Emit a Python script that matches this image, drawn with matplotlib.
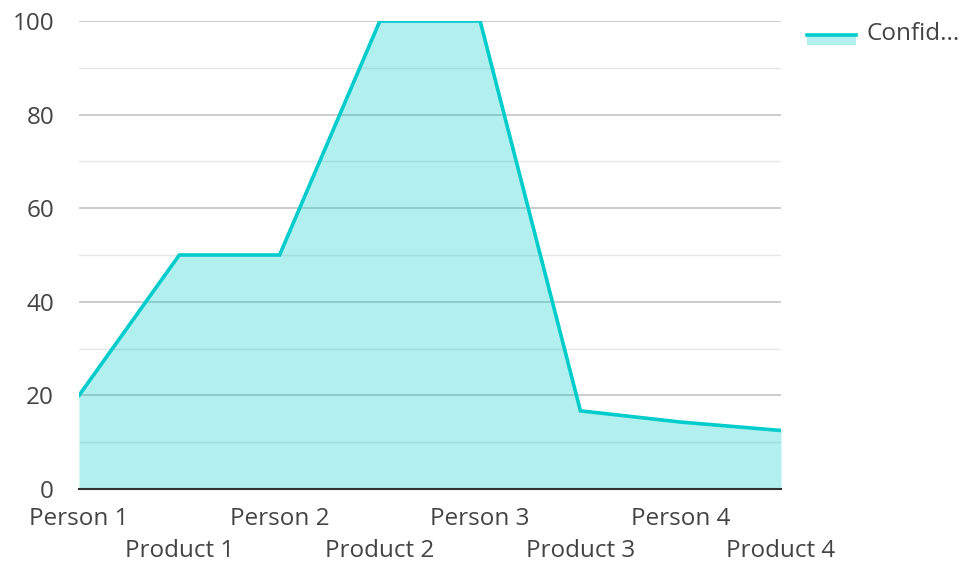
import matplotlib.pyplot as plt
from matplotlib.patches import Rectangle
from matplotlib.lines import Line2D

plt.rcParams['font.family'] = ['Open Sans', 'DejaVu Sans']

categories = ['Person 1', 'Product 1', 'Person 2', 'Product 2',
              'Person 3', 'Product 3', 'Person 4', 'Product 4']
confidence = [20, 50, 50, 100, 100, 16.7, 14.3, 12.5]
y_ticks = [0, 20, 40, 60, 80, 100]
y_minor = [10, 30, 50, 70, 90]

line_color = '#00CCCC'
text_color = '#444444'
fs = 17.5

fig = plt.figure(figsize=(9.63, 5.61), dpi=100)
ax = fig.add_axes([79 / 963, 72 / 561, 702 / 963, 468 / 561])

x = list(range(len(categories)))
# fill is semi transparent so the grid shows through it
ax.fill_between(x, confidence, 0, color=line_color, alpha=0.3, lw=0, zorder=2)
ax.plot(x, confidence, color=line_color, lw=2.6, zorder=3, solid_joinstyle='miter')

ax.set_xlim(0, len(categories) - 1)
ax.set_ylim(0, 100)
ax.set_yticks(y_ticks)
ax.set_yticks(y_minor, minor=True)
ax.set_axisbelow(True)
ax.grid(axis='y', which='major', color='#C4C4C4', lw=1.2)
ax.grid(axis='y', which='minor', color='#E6E6E6', lw=1.0)

labels = [c if i % 2 == 0 else '\n' + c for i, c in enumerate(categories)]
ax.set_xticks(x)
ax.set_xticklabels(labels, linespacing=1.42)
ax.tick_params(axis='both', which='both', length=0, labelsize=fs, colors=text_color)
ax.tick_params(axis='x', pad=13)
ax.tick_params(axis='y', pad=18)

for side in ['top', 'right', 'left']:
    ax.spines[side].set_visible(False)
ax.spines['bottom'].set_color('#333333')
ax.spines['bottom'].set_linewidth(1.5)
ax.spines['bottom'].set_zorder(4)

# legend drawn by hand: line on top of a filled swatch
fig.patches.append(Rectangle((807 / 963, 1 - 45 / 561), 49 / 963, 11 / 561,
                             transform=fig.transFigure, color=line_color,
                             alpha=0.3, lw=0))
fig.lines.append(Line2D([807 / 963, 856 / 963], [1 - 35 / 561, 1 - 35 / 561],
                        transform=fig.transFigure, color=line_color, lw=2.6))
fig.text(866 / 963, 1 - 34 / 561, 'Confid...', fontsize=fs, color=text_color,
         va='center', ha='left')

fig.savefig('out.png', dpi=100)
